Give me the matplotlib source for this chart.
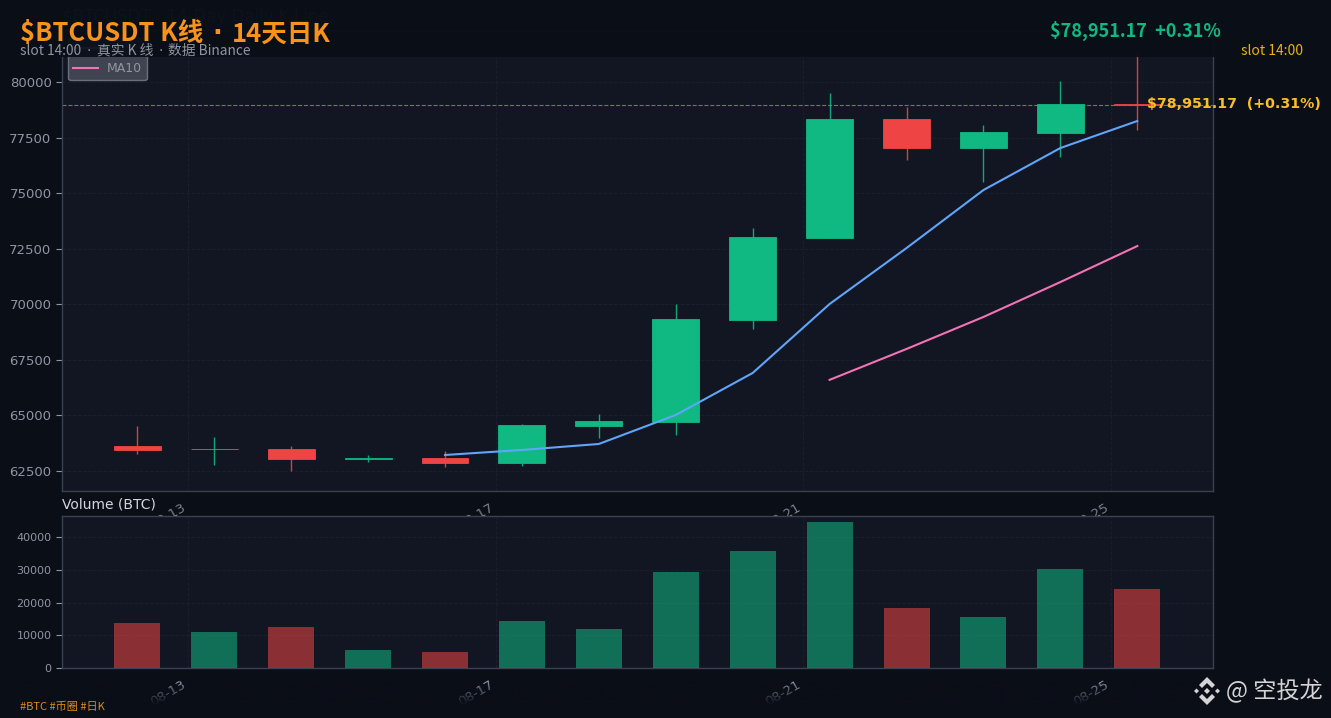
import numpy as np
import matplotlib
matplotlib.use("Agg")
import matplotlib.pyplot as plt
from matplotlib.patches import Rectangle, Polygon

W, H = 1331, 718
CJK = ['Noto Sans CJK SC', 'DejaVu Sans']

opens  = [63626, 63480, 63491, 63050, 63086, 62860, 64520, 64710, 69300, 72980, 78340, 77030, 77710, 79010]
closes = [63446, 63510, 63041, 63075, 62861, 64550, 64750, 69340, 73030, 78340, 77030, 77750, 79010, 78951]
highs  = [64526, 64045, 63626, 63220, 63400, 64620, 65060, 70010, 73430, 79500, 78870, 78070, 80040, 81300]
lows   = [63266, 62770, 62500, 62900, 62680, 62720, 63985, 64120, 68890, 72980, 76490, 75500, 76630, 77840]
volumes = [13700, 11000, 12500, 5500, 4900, 14300, 11900, 29300, 35800, 44600, 18500, 15500, 30200, 24100]
ma5_x = [4, 5, 6, 7, 8, 9, 10, 11, 12, 13]
ma5 = [63220, 63446, 63716, 65020, 66910, 70013, 72530, 75140, 77030, 78245]
ma10_x = [9, 10, 11, 12, 13]
ma10 = [66600, 67990, 69430, 71000, 72620]
date_ticks = [0.659, 4.659, 8.659, 12.659]
date_labels = ['08-13', '08-17', '08-21', '08-25']
last_price = 78951.17

BG = '#0a0e17'; PANEL = '#111622'; SPINE = '#3a4150'; TICK = '#8f95a1'
GREEN = '#10b981'; RED = '#ef4444'; GOLD = '#fbbf24'; ORANGE = '#f7931a'

def axrect(l, t, r, b):
    return [l / W, 1 - b / H, (r - l) / W, (b - t) / H]

fig = plt.figure(figsize=(W / 100, H / 100), dpi=100, facecolor=BG)
ax = fig.add_axes(axrect(62, 30, 1213, 491), facecolor=PANEL, zorder=1)
vx = fig.add_axes(axrect(62, 515.5, 1213, 668), facecolor=PANEL, zorder=2)

for a in (ax, vx):
    a.set_xlim(-0.979, 13.984)
    a.grid(True, color='#1c222d', lw=0.7, ls='--', alpha=0.8)
    a.set_axisbelow(True)
    for s in a.spines.values():
        s.set_color(SPINE); s.set_linewidth(1)
    a.set_xticks(date_ticks)
    a.set_xticklabels(date_labels, rotation=30, ha='right', color=TICK, fontsize=9.5)
    a.tick_params(axis='x', length=0, pad=7)
ax.tick_params(axis='y', colors=TICK, labelsize=9.5, length=4, color=TICK)
vx.tick_params(axis='y', colors=TICK, labelsize=8, length=4, color=TICK)

# price panel: y limits extend under the header band
ax.set_ylim(61600, 80000 + (82 - 30) / 0.02223)
ax.set_yticks([62500, 65000, 67500, 70000, 72500, 75000, 77500, 80000])
ax.set_yticklabels([str(v) for v in [62500, 65000, 67500, 70000, 72500, 75000, 77500, 80000]])

x = np.arange(len(opens))
for i in x:
    c = GREEN if closes[i] >= opens[i] else RED
    ax.vlines(i, lows[i], highs[i], color=c, lw=1, alpha=0.9, zorder=3)
    lo, hi = min(opens[i], closes[i]), max(opens[i], closes[i])
    ax.add_patch(Rectangle((i - 0.305, lo), 0.61, hi - lo, facecolor=c, edgecolor=c, lw=0.6, zorder=4))
l5, = ax.plot(ma5_x, ma5, color='#60a5fa', lw=1.5, label='MA5', zorder=5)
l10, = ax.plot(ma10_x, ma10, color='#f472b6', lw=1.5, label='MA10', zorder=5)
ax.axhline(last_price, color=GOLD, lw=0.8, ls='--', alpha=0.55, zorder=2)
ax.text(1147 / W, 1 - 104 / H, '$78,951.17  (+0.31%)', transform=fig.transFigure, color=GOLD,
        fontsize=10.2, fontweight='bold', va='center', ha='left', family='DejaVu Sans', zorder=6, clip_on=False)
leg = ax.legend(handles=[l5, l10], loc='upper left', bbox_to_anchor=(0.0, 1 - 1.5 / 461), borderaxespad=0.5,
                fontsize=9, frameon=True, facecolor='#4b505c', edgecolor='#7a808c', labelcolor=TICK,
                framealpha=0.8, handletextpad=0.65)
leg.set_zorder(7)

# volume panel
vcolors = [GREEN if closes[i] >= opens[i] else RED for i in x]
vx.bar(x, volumes, width=0.598, color=vcolors, alpha=0.55, zorder=3)
vx.set_ylim(0, 46660)
vx.set_yticks([0, 10000, 20000, 30000, 40000])

# overlays in figure space
ov = fig.add_axes([0, 0, 1, 1], zorder=5, facecolor='none')
ov.set_xlim(0, W); ov.set_ylim(H, 0); ov.axis('off')
ov.text(62, 17, '$BTCUSDT · 14-Day Daily K-Line', color='#5a6070', fontsize=12, va='center', ha='left', zorder=1, alpha=0.7)
ov.add_patch(Rectangle((0, 0), W, 57, facecolor='#0a0e17', alpha=0.93, lw=0, zorder=2))
ov.add_patch(Rectangle((0, 492), 1213, 23, facecolor='#0a0e17', alpha=0.15, lw=0, zorder=2))
grad = np.zeros((60, 2, 4))
grad[..., :3] = matplotlib.colors.to_rgb(BG)
grad[..., 3] = np.linspace(0, 1, 60)[:, None] * 0.97
ov.imshow(grad, extent=(0, W, 704, 682), aspect='auto', zorder=2, origin='upper')
ov.add_patch(Rectangle((0, 704), W, 14, facecolor=BG, lw=0, zorder=2))
ov.set_xlim(0, W); ov.set_ylim(H, 0)

# title and subtitle in pieces: the separators sit tighter than the CJK font's own dot
for tx, s in [(20, '$BTCUSDT K线'), (232, '14天日K')]:
    ov.text(tx, 41.5, s, color=ORANGE, fontsize=18.4, fontweight='bold', family=CJK, va='baseline', ha='left', zorder=5)
ov.text(217, 41.5, '·', color=ORANGE, fontsize=18.4, fontweight='bold', family='DejaVu Sans', va='baseline', ha='center', zorder=5)
for tx, s in [(20, 'slot 14:00'), (97, '真实 K 线'), (168, '数据 Binance')]:
    ov.text(tx, 55, s, color=TICK, fontsize=9.9, family=CJK, va='baseline', ha='left', zorder=5)
for tx in (89, 161):
    ov.text(tx, 55, '·', color=TICK, fontsize=9.9, family='DejaVu Sans', va='baseline', ha='center', zorder=5)
ov.text(1221, 37, '$78,951.17  +0.31%', color=GREEN, fontsize=13, fontweight='bold', family=CJK, va='baseline', ha='right', zorder=5)
ov.text(1303, 55, 'slot 14:00', color='#eab308', fontsize=10, family=CJK, va='baseline', ha='right', zorder=5)
ov.text(62, 504, 'Volume (BTC)', color='#d4d6da', fontsize=10, va='center', ha='left', zorder=5)
ov.text(20, 710, '#BTC #币圈 #日K', color='#e08a1a', fontsize=8, family=CJK, va='baseline', ha='left', zorder=5)
ov.text(1226, 691, '@ 空投龙', color='#d4d4d4', fontsize=16.7, family=CJK, va='center', ha='left', zorder=5)

# watermark logo
cx, cy = 1207, 691
WM = '#d4d4d4'
def dia(mx, my, r):
    ov.add_patch(Polygon([(mx, my - r), (mx + r, my), (mx, my + r), (mx - r, my)], facecolor=WM, lw=0, zorder=5))
dia(cx, cy, 3); dia(cx - 10.5, cy, 2.5); dia(cx + 10.5, cy, 2.5)
for sy in (-1, 1):
    ov.add_patch(Polygon([(cx, cy + sy * 14), (cx + 8, cy + sy * 6), (cx + 5, cy + sy * 3), (cx, cy + sy * 8),
                          (cx - 5, cy + sy * 3), (cx - 8, cy + sy * 6)], facecolor=WM, lw=0, zorder=5))

fig.savefig('out.png', dpi=100, facecolor=BG)
